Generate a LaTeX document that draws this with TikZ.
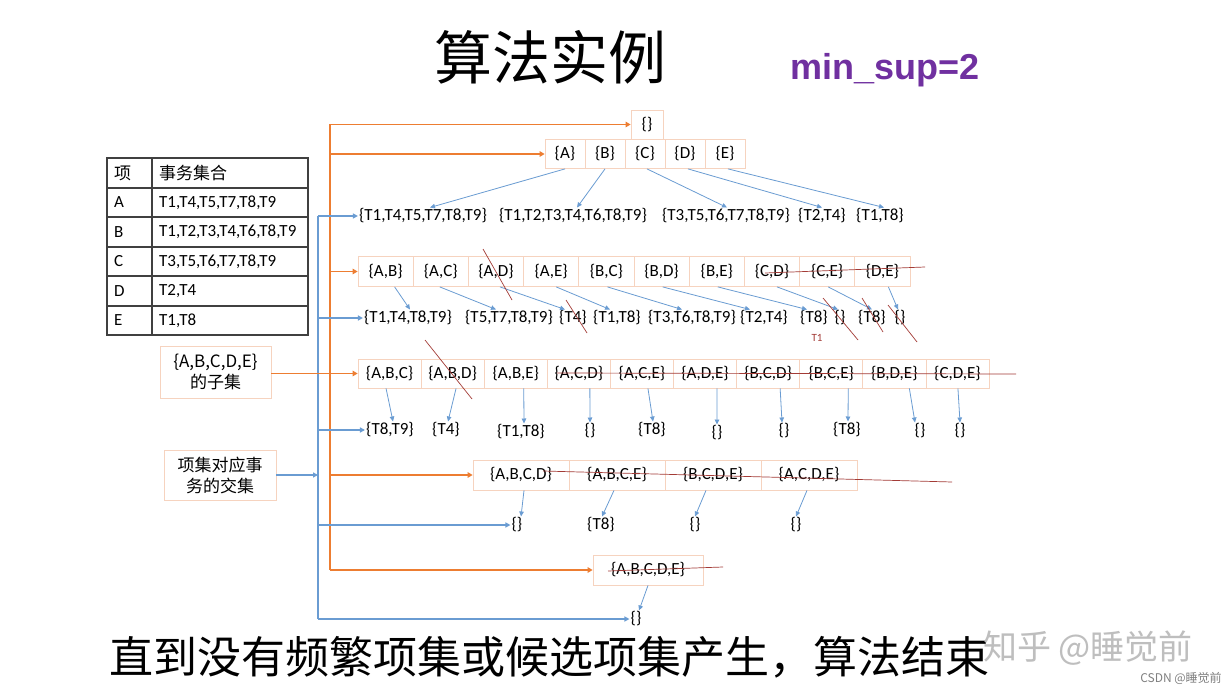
\documentclass[tikz,border=0pt]{standalone}
\usepackage{fontspec}
\setmainfont{Carlito}
\newfontfamily\cjk{Noto Sans CJK SC}
\newfontfamily\msfont{Liberation Sans}
\usetikzlibrary{arrows.meta,calc}
\definecolor{orangeL}{HTML}{ED7D31}
\definecolor{blueL}{HTML}{6A9CD2}
\definecolor{boxB}{HTML}{F6D3BF}
\definecolor{strike}{HTML}{A33B36}
\definecolor{tblc}{HTML}{404040}
\definecolor{purp}{HTML}{7030A0}
\definecolor{wmgray}{HTML}{BEBEBE}
\tikzset{
 cellbox/.style={draw=boxB, line width=0.8pt, minimum height=29pt, inner sep=0pt, font=\fontsize{17}{19}\selectfont},
 res/.style={inner sep=1pt, font=\fontsize{17}{19}\selectfont},
 tbltxt/.style={inner sep=0pt, anchor=west, font=\fontsize{17}{19}\selectfont},
 lbox/.style={draw=boxB, line width=0.8pt, inner sep=0pt, align=center, font=\cjk\fontsize{17}{21}\selectfont},
 oline/.style={draw=orangeL, line width=1.6pt},
 oarrow/.style={oline, -{Triangle[width=5.5pt,length=5pt]}},
 bline/.style={draw=blueL, line width=1.3pt},
 barrow/.style={bline, -{Triangle[width=5pt,length=5pt]}},
 tarrow/.style={draw=blueL, line width=0.8pt, -{Triangle[width=4.5pt,length=5pt]}},
 strk/.style={draw=strike, line width=0.7pt},
}
\begin{document}
\begin{tikzpicture}[x=1pt,y=-1pt]
\useasboundingbox (0,0) rectangle (1228,695);
\fill[white] (0,0) rectangle (1228,695);

% titles
\node (title) at (550,57) {\cjk\fontsize{58}{60}\selectfont 算法实例};
\node[text=purp] (minsup) at (885,70) {\msfont\bfseries\fontsize{36}{38}\selectfont min\_sup=2};

% table
\draw[tblc, line width=1.2pt] (107,158) rectangle (308,335);
\draw[tblc, line width=1.2pt] (152,158) -- (152,335);
\foreach \yy in {188,217,247,276,306} \draw[tblc, line width=1.2pt] (107,\yy) -- (308,\yy);
\node[tbltxt] (th1) at (114,173) {\cjk 项};
\node[tbltxt] (th2) at (159,173) {\cjk 事务集合};
\node[tbltxt] (ta) at (114,202.5) {A};
\node[tbltxt] (tav) at (159,202.5) {T1,T4,T5,T7,T8,T9};
\node[tbltxt] (tb) at (114,232) {B};
\node[tbltxt] (tbv) at (159,232) {T1,T2,T3,T4,T6,T8,T9};
\node[tbltxt] (tc) at (114,261.5) {C};
\node[tbltxt] (tcv) at (159,261.5) {T3,T5,T6,T7,T8,T9};
\node[tbltxt] (td) at (114,291) {D};
\node[tbltxt] (tdv) at (159,291) {T2,T4};
\node[tbltxt] (te) at (114,320.5) {E};
\node[tbltxt] (tev) at (159,320.5) {T1,T8};

% left boxes
\node[lbox, minimum width=111pt, minimum height=52pt] (lb1) at (215.5,372) {\{A,B,C,D,E\}\\的子集};
\node[lbox, minimum width=112pt, minimum height=50pt] (lb2) at (220,475) {项集对应事\\务的交集};

% level 0 and 1
\node[cellbox, minimum width=32pt] (c0) at (647,124.5) {\{\}};
\foreach \t [count=\i] in {A,B,C,D,E}
  \node[cellbox, minimum width=40pt] (c1\i) at ({525+40*\i},154) {\{\t\}};
\node[res] (r11) at (423,216) {\{T1,T4,T5,T7,T8,T9\}};
\node[res] (r12) at (573,216) {\{T1,T2,T3,T4,T6,T8,T9\}};
\node[res] (r13) at (726,216) {\{T3,T5,T6,T7,T8,T9\}};
\node[res] (r14) at (822,216) {\{T2,T4\}};
\node[res] (r15) at (880,216) {\{T1,T8\}};

% level 2
\foreach \t [count=\i] in {{A,B},{A,C},{A,D},{A,E},{B,C},{B,D},{B,E},{C,D},{C,E},{D,E}}
  \node[cellbox, minimum width=55.2pt, minimum height=30pt] (c2\i) at ({358-27.6+55.2*\i},271.5) {\{\t\}};
\node[res] (r21) at (408,318) {\{T1,T4,T8,T9\}};
\node[res] (r22) at (509,318) {\{T5,T7,T8,T9\}};
\node[res] (r23) at (573,318) {\{T4\}};
\node[res] (r24) at (617,318) {\{T1,T8\}};
\node[res] (r25) at (692,318) {\{T3,T6,T8,T9\}};
\node[res] (r26) at (764,318) {\{T2,T4\}};
\node[res] (r27) at (814,318) {\{T8\}};
\node[res] (r28) at (840,318) {\{\}};
\node[res] (r29) at (872,318) {\{T8\}};
\node[res] (r210) at (900,318) {\{\}};
\node[inner sep=0pt, text=strike, font=\fontsize{11}{12}\selectfont] (t1lab) at (817,338) {T1};

% level 3
\foreach \t [count=\i] in {{A,B,C},{A,B,D},{A,B,E},{A,C,D},{A,C,E},{A,D,E},{B,C,D},{B,C,E},{B,D,E},{C,D,E}}
  \node[cellbox, minimum width=63.1pt] (c3\i) at ({358-31.55+63.1*\i},373.5) {\{\t\}};
\node[res] (s1) at (390,430) {\{T8,T9\}};
\node[res] (s2) at (446,430) {\{T4\}};
\node[res] (s3) at (521,432) {\{T1,T8\}};
\node[res] (s4) at (590,431) {\{\}};
\node[res] (s5) at (652,430) {\{T8\}};
\node[res] (s6) at (717,433) {\{\}};
\node[res] (s7) at (784,431) {\{\}};
\node[res] (s8) at (847,430) {\{T8\}};
\node[res] (s9) at (920,431) {\{\}};
\node[res] (s10) at (960,431) {\{\}};

% level 4
\foreach \t [count=\i] in {{A,B,C,D},{A,B,C,E},{B,C,D,E},{A,C,D,E}}
  \node[cellbox, minimum width=96pt, minimum height=30pt] (c4\i) at ({473-48+96*\i},475) {\{\t\}};
\node[res] (r41) at (517,525) {\{\}};
\node[res] (r42) at (601,525) {\{T8\}};
\node[res] (r43) at (695,525) {\{\}};
\node[res] (r44) at (796,525) {\{\}};

% level 5
\node[cellbox, minimum width=110pt, minimum height=30pt] (c51) at (648,570) {\{A,B,C,D,E\}};
\node[res] (r51) at (636,619) {\{\}};

% trunks
\coordinate (ot) at (330,0);
\coordinate (bt) at (318,0);
\draw[oline] (ot |- c0.west) -- (ot |- c51.west);
\draw[bline] (bt |- r11.west) -- (bt |- r51.west);
\draw[oarrow] (ot |- c0.west) -- (c0.west);
\draw[oarrow] (ot |- c11.west) -- (c11.west);
\draw[oarrow] (ot |- c21.west) -- (c21.west);
\draw[oarrow] (lb1.east |- c31.west) -- (c31.west);
\draw[oarrow] (ot |- c41.west) -- (c41.west);
\draw[oarrow] (ot |- c51.west) -- (c51.west);
\draw[barrow] (bt |- r11.west) -- (r11.west);
\draw[barrow] (bt |- r21.west) -- (r21.west);
\draw[barrow] (bt |- s1.west) -- (s1.west);
\draw[barrow] (bt |- r41.west) -- (r41.west);
\draw[barrow] (bt |- r51.west) -- (r51.west);
\draw[barrow] (lb2.east) -- (bt |- lb2.east);

% level 1 arrows
\draw[tarrow] (c11.south) -- ([xshift=7pt]r11.north);
\draw[tarrow] (c12.south) -- ([xshift=4pt]r12.north);
\draw[tarrow] ([xshift=2pt]c13.south) -- ([xshift=1pt]r13.north);
\draw[tarrow] ([xshift=3pt]c14.south) -- (r14.north);
\draw[tarrow] ([xshift=3pt]c15.south) -- ([xshift=4pt]r15.north);

% level 2 arrows
\draw[tarrow] ([xshift=9pt]c21.south) -- ([xshift=2pt]r21.north);
\draw[tarrow] ([xshift=-1pt]c22.south) -- ([xshift=-13pt]r22.north);
\draw[tarrow] ([xshift=4pt]c23.south) -- ([xshift=-8pt]r23.north);
\draw[tarrow] ([xshift=5pt]c24.south) -- ([xshift=-7pt]r24.north);
\draw[tarrow] ([xshift=1pt]c25.south) -- ([xshift=-10pt]r25.north);
\draw[tarrow] ([xshift=1pt]c26.south) -- ([xshift=-14pt]r26.north);
\draw[tarrow] ([xshift=1pt]c27.south) -- ([xshift=-7pt]r27.north);
\draw[tarrow] ([xshift=5pt]c28.south) -- ([xshift=-2pt]r28.north);
\draw[tarrow] ([xshift=1pt]c29.south) -- (r29.north);
\draw[tarrow] ([xshift=6pt]c210.south) -- ([xshift=-2pt]r210.north);

% level 3 arrows
\draw[tarrow] ([xshift=-3.5pt]c31.south) -- ([xshift=3pt]s1.north);
\draw[tarrow] ([xshift=3.4pt]c32.south) -- ([xshift=2pt]s2.north);
\draw[tarrow] ([xshift=8pt]c33.south) -- ([xshift=3pt]s3.north);
\draw[tarrow] ([xshift=11pt]c34.south) -- (s4.north);
\draw[tarrow] ([xshift=6pt]c35.south) -- ([xshift=1pt]s5.north);
\draw[tarrow] ([xshift=12pt]c36.south) -- (s6.north);
\draw[tarrow] ([xshift=12pt]c37.south) -- ([xshift=-2pt]s7.north);
\draw[tarrow] ([xshift=17pt]c38.south) -- ([xshift=1pt]s8.north);
\draw[tarrow] ([xshift=15pt]c39.south) -- ([xshift=-5pt]s9.north);
\draw[tarrow] ([xshift=0.5pt]c310.south) -- (s10.north);

% level 4 arrows
\draw[tarrow] ([xshift=3pt]c41.south) -- ([xshift=4pt]r41.north);
\draw[tarrow] ([xshift=-3pt]c42.south) -- ([xshift=1pt]r42.north);
\draw[tarrow] ([xshift=-7pt]c43.south) -- (r43.north);
\draw[tarrow] ([xshift=-2pt]c44.south) -- (r44.north);

% level 5 arrow
\draw[tarrow] (c51.south) -- ([xshift=3pt]r51.north);

% strike lines
\draw[strk] (483,249) -- (512,300);
\draw[strk] (765,273) -- (925,267);
\draw[strk] (566,300) -- (587,333);
\draw[strk] (823,298) -- (858,340);
\draw[strk] (862,298) -- (883,332);
\draw[strk] (888,305) -- (917,342);
\draw[strk] (425,340) -- (472,399);
\draw[strk] (557,373) -- (1016,374);
\draw[strk] (543,471) -- (952,482);
\draw[strk] (608,571) -- (723,567);

% bottom text and watermark
\node (concl) at (549,657) {\cjk\fontsize{44}{46}\selectfont 直到没有频繁项集或候选项集产生，算法结束};
\node[text=wmgray] (wm) at (1088,648) {\cjk\fontsize{34}{36}\selectfont 知乎 @睡觉前};
\node[text=gray] (csdn) at (1181,678) {\cjk\fontsize{12}{13}\selectfont CSDN @睡觉前};
\end{tikzpicture}
\end{document}
